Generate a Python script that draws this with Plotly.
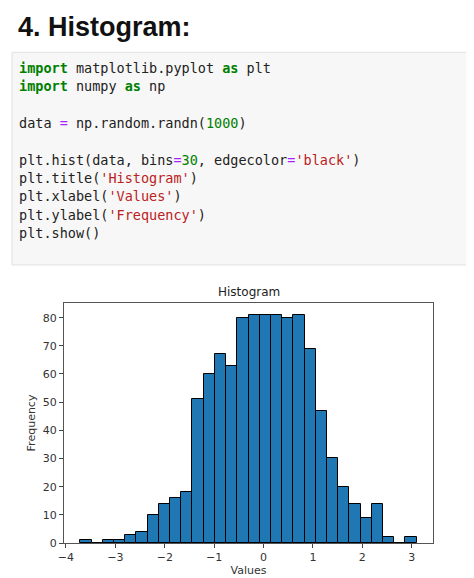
import numpy as np
import plotly.graph_objects as go

# Histogram counts (30 bins)
data_min, data_max = -3.71, 3.10
counts = [1, 0, 1, 1, 3, 4, 10, 14, 16, 18, 51, 60, 67, 63, 80,
          81, 81, 81, 80, 81, 69, 47, 30, 20, 14, 9, 14, 2, 0, 2]
x_ticks = [-4, -3, -2, -1, 0, 1, 2, 3]
y_ticks = [0, 10, 20, 30, 40, 50, 60, 70, 80]

edges = np.linspace(data_min, data_max, len(counts) + 1)
centers = (edges[:-1] + edges[1:]) / 2
width = edges[1] - edges[0]

code_lines = [
    "<b><span style='color:#008000'>import</span></b> matplotlib.pyplot <b><span style='color:#008000'>as</span></b> plt",
    "<b><span style='color:#008000'>import</span></b> numpy <b><span style='color:#008000'>as</span></b> np",
    "",
    "data <span style='color:#aa22ff'>=</span> np.random.randn(<span style='color:#008000'>1000</span>)",
    "",
    "plt.hist(data, bins<span style='color:#aa22ff'>=</span><span style='color:#008000'>30</span>, edgecolor<span style='color:#aa22ff'>=</span><span style='color:#ba2121'>'black'</span>)",
    "plt.title(<span style='color:#ba2121'>'Histogram'</span>)",
    "plt.xlabel(<span style='color:#ba2121'>'Values'</span>)",
    "plt.ylabel(<span style='color:#ba2121'>'Frequency'</span>)",
    "plt.show()",
]

W, H = 474, 578
L, R, T, B = 56, 49, 295, 37
pw, ph = W - L - R, H - T - B


def px_x(px):
    return (px - L) / pw


def px_y(py):
    return (H - B - py) / ph


fig = go.Figure(go.Bar(
    x=centers, y=counts, width=width,
    marker=dict(color="#1f77b4", line=dict(color="black", width=1)),
))

annotations = [
    dict(text="<b>4. Histogram:</b>", x=px_x(8), y=px_y(12), xanchor="left", yanchor="middle",
         font=dict(family="Liberation Sans", size=27, color="#111111")),
    dict(text="Histogram", x=0.5, y=px_y(284), xanchor="center", yanchor="middle",
         font=dict(family="DejaVu Sans", size=12, color="#222222")),
]
line_y = 54
for line in code_lines:
    if line:
        annotations.append(dict(text=line, x=px_x(9), y=px_y(line_y), xanchor="left", yanchor="middle",
                                font=dict(family="DejaVu Sans Mono", size=13.5, color="#222222")))
    line_y += 18.8
for a in annotations:
    a.update(xref="paper", yref="paper", showarrow=False)

fig.update_layout(
    width=W, height=H, margin=dict(l=L, r=R, t=T, b=B),
    paper_bgcolor="white", plot_bgcolor="white", showlegend=False, bargap=0,
    annotations=annotations,
    shapes=[dict(type="rect", xref="paper", yref="paper", x0=px_x(4), x1=px_x(474),
                 y0=px_y(256), y1=px_y(38), fillcolor="#f7f7f7",
                 line=dict(color="#e0e0e0", width=1), layer="below")],
    font=dict(family="DejaVu Sans", size=11, color="#333333"),
)
fig.update_xaxes(range=[-4.04, 3.43], tickvals=x_ticks, ticktext=[str(t).replace("-", "\u2212") for t in x_ticks],
                 showgrid=False, zeroline=False, showline=True, linecolor="#555555", mirror=True,
                 ticks="outside", ticklen=4, title=dict(text="Values", standoff=2, font=dict(size=11)))
fig.update_yaxes(range=[0, 85.2], tickvals=y_ticks, showgrid=False, zeroline=False,
                 showline=True, linecolor="#555555", mirror=True, ticks="outside", ticklen=4,
                 title=dict(text="Frequency", standoff=4, font=dict(size=11)))

fig.write_html("out.html")
